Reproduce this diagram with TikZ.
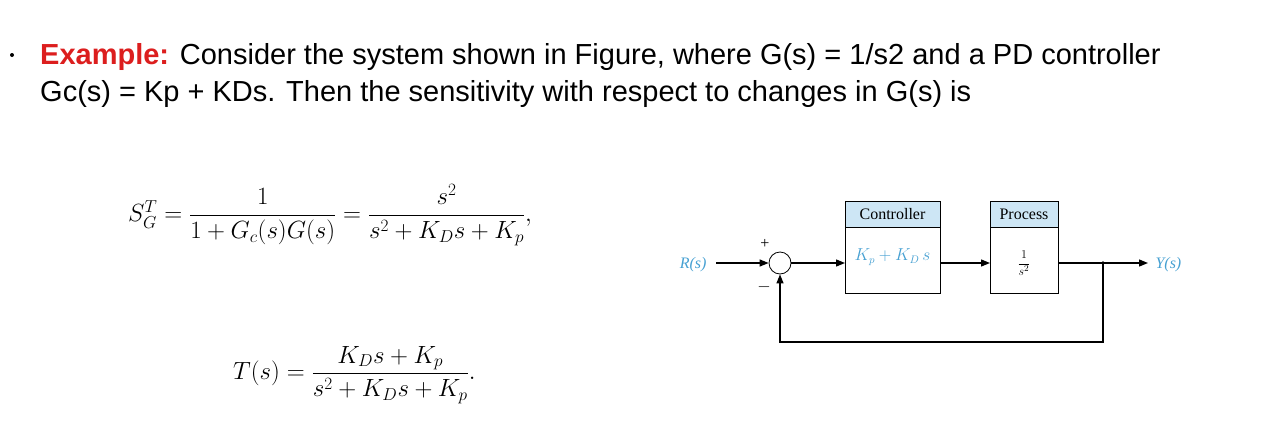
\documentclass[tikz,border=0pt]{standalone}
\usepackage{amsmath}
\usepackage{fontspec}
\setmainfont{Liberation Sans}
\newfontfamily\serifb{Liberation Serif}
\usetikzlibrary{arrows.meta}
\definecolor{hdr}{RGB}{205,230,245}
\definecolor{lbl}{RGB}{70,160,210}
\definecolor{exred}{RGB}{220,30,30}
\begin{document}
\begin{tikzpicture}[x=1pt,y=-1pt,
  blk/.style={draw,line width=1pt},
  sig/.style={line width=1.3pt,-{Triangle[length=9pt,width=7pt]}},
  lab/.style={font=\serifb\fontsize{16}{18}\selectfont}]
\useasboundingbox (0,0) rectangle (1280,429);
\fill (12,55) circle (2);
\node[anchor=base west,inner sep=0,font=\fontsize{29}{34}\selectfont] (l1) at (40,64)
 {\textcolor{exred}{\bfseries Example:} Consider the system shown in Figure, where G(s) = 1/s2 and a PD controller};
\node[anchor=base west,inner sep=0,font=\fontsize{29}{34}\selectfont] (l2) at (40,101)
 {Gc(s) = Kp + KDs. Then the sensitivity with respect to changes in G(s) is};
\node[anchor=west,inner sep=0,font=\fontsize{26}{30}\selectfont] (eq1) at (128,215)
 {$S^T_G=\dfrac{1}{1+G_c(s)G(s)}=\dfrac{s^2}{s^2+K_Ds+K_p},$};
\node[anchor=west,inner sep=0,font=\fontsize{26}{30}\selectfont] (eq2) at (233,375)
 {$T(s)=\dfrac{K_Ds+K_p}{s^2+K_Ds+K_p}.$};
% blocks
\fill[hdr] (845,201) rectangle (940,227);
\fill[hdr] (990,201) rectangle (1058,227);
\draw[blk] (845,201) rectangle (940,293); \draw[blk] (845,227) -- (940,227);
\draw[blk] (990,201) rectangle (1058,293); \draw[blk] (990,227) -- (1058,227);
\node[lab] (ch) at (892.5,214) {Controller};
\node[lab] (ph) at (1024,214) {Process};
\node[lab,text=lbl,font=\fontsize{16}{18}\selectfont] (c) at (892.5,257) {$K_p+K_D\,s$};
\node[lab,font=\fontsize{13}{15}\selectfont] (p) at (1024,263) {$\dfrac{1}{s^2}$};
\node[draw,circle,line width=0.8pt,minimum size=22pt,inner sep=0] (sum) at (780,263) {};
\node[lab,text=lbl,anchor=east] (r) at (710,265) {\itshape R(s)};
\node[lab,text=lbl,anchor=west] (y) at (1152,265) {\itshape Y(s)};
\coordinate (rin) at (716,263);
\coordinate (yout) at (1148,263);
\coordinate (br) at (1103,263);
\coordinate (b1) at (1103,342);
\coordinate (b2) at (780,342);
\draw[sig] (rin) -- (sum.west);
\draw[sig] (sum.east) -- (845,263);
\draw[sig] (940,263) -- (990,263);
\draw[sig] (1058,263) -- (yout);
\draw[sig] (br) -- (b1) -- (b2) -- (sum.south);
\fill (br) circle (1.8);
\node[lab] (plus) at (765,244) {+};
\node[lab] (minus) at (764,287) {$-$};
\end{tikzpicture}
\end{document}
